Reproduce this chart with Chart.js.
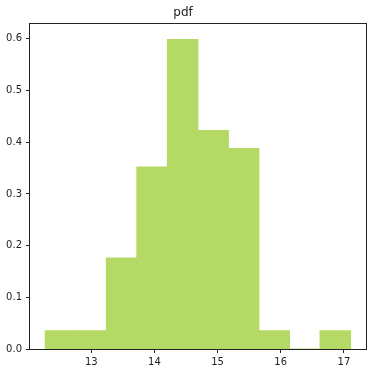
<!DOCTYPE html>
<html>
<head>
<meta charset="utf-8">
<script src="https://cdn.jsdelivr.net/npm/chart.js@4.4.1/dist/chart.umd.min.js"></script>
<style>
  html, body { margin: 0; padding: 0; background: #fff; }
  #wrap { width: 375px; height: 373px; }
</style>
</head>
<body>
<div id="wrap"><canvas id="hist"></canvas></div>
<script>
// histogram bins (centres) and density
const binCenters = [12.513, 12.996, 13.480, 13.963, 14.447, 14.930, 15.413, 15.897, 16.380, 16.864];
const density = [0.0352, 0.0352, 0.176, 0.352, 0.599, 0.423, 0.388, 0.0352, 0, 0.0352];
const xTicks = [13, 14, 15, 16, 17];
const yTicks = [0, 0.1, 0.2, 0.3, 0.4, 0.5, 0.6];

const ink = '#222';

// matplotlib style box around the axes
const frame = {
    id: 'frame',
    afterDatasetsDraw(chart) {
        const a = chart.chartArea;
        const ctx = chart.ctx;
        ctx.save();
        ctx.strokeStyle = ink;
        ctx.lineWidth = 1;
        ctx.strokeRect(Math.round(a.left) - 0.5, Math.round(a.top) + 0.5,
            Math.round(a.right - a.left) + 1, Math.round(a.bottom - a.top));
        ctx.restore();
    }
};

new Chart(document.getElementById('hist'), {
    type: 'bar',
    data: {
        datasets: [{
            data: binCenters.map((x, i) => ({ x: x, y: density[i] })),
            backgroundColor: 'rgb(180, 217, 101)',
            borderWidth: 0,
            inflateAmount: 0.5,
            barPercentage: 1,
            categoryPercentage: 1
        }]
    },
    plugins: [frame],
    options: {
        responsive: true,
        maintainAspectRatio: false,
        animation: false,
        layout: { padding: { top: 0, right: 9, bottom: 0, left: 0 } },
        plugins: {
            legend: { display: false },
            tooltip: { enabled: false },
            title: {
                display: true,
                text: 'pdf',
                color: ink,
                font: { family: 'DejaVu Sans', size: 12, weight: 'normal' },
                padding: { top: 6, bottom: 3 }
            }
        },
        scales: {
            x: {
                type: 'linear',
                offset: false,
                min: 12.03,
                max: 17.35,
                afterBuildTicks: s => { s.ticks = xTicks.map(v => ({ value: v })); },
                afterFit: s => { s.height = 24; },
                border: { display: false },
                grid: { display: true, offset: false, drawOnChartArea: false, drawTicks: true, tickLength: 4, color: ink },
                ticks: {
                    color: ink,
                    padding: 3,
                    maxRotation: 0,
                    font: { family: 'DejaVu Sans', size: 10 },
                    callback: v => String(v)
                }
            },
            y: {
                min: 0,
                max: 0.63,
                afterBuildTicks: s => { s.ticks = yTicks.map(v => ({ value: v })); },
                afterFit: s => { s.width = 30; },
                border: { display: false },
                grid: { display: true, drawOnChartArea: false, drawTicks: true, tickLength: 4, color: ink },
                ticks: {
                    color: ink,
                    padding: 4,
                    font: { family: 'DejaVu Sans', size: 10 },
                    callback: v => v.toFixed(1)
                }
            }
        }
    }
});
</script>
</body>
</html>
